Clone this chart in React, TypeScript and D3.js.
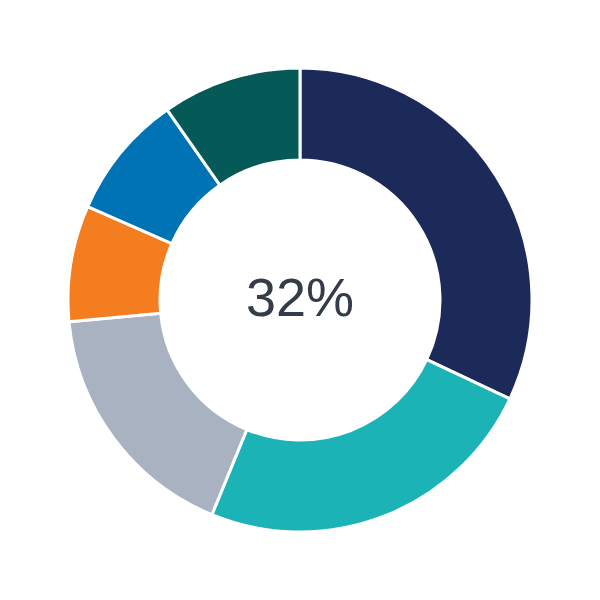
import React from "react";
import * as d3 from "d3";

const categories = ["A", "B", "C", "D", "E", "F"];
const values = [32, 24.2, 17.3, 8.1, 8.7, 9.7];
const colors = ["#1c2a5a", "#1bb3b6", "#a8b2c1", "#f47d20", "#0073b5", "#055a57"];
const centerLabel = "32%";

export default function App() {
  const width = 600;
  const height = 600;
  const cx = 300;
  const cy = 300;
  const outerR = 232;
  const innerR = 140;
  const pie = d3.pie<number>().sort(null).value((d) => d);
  const arcs = pie(values);
  const arc = d3.arc<d3.PieArcDatum<number>>().innerRadius(innerR).outerRadius(outerR);
  return (
    <svg width={width} height={height} style={{ position: "absolute", left: 0, top: 0 }}>
      <rect width={width} height={height} fill="#ffffff" />
      <g transform={`translate(${cx},${cy})`}>
        {arcs.map((a, i) => (
          <path key={categories[i]} d={arc(a) || ""} fill={colors[i]} stroke="#ffffff" strokeWidth={3} />
        ))}
        <text
          x={0}
          y={16}
          textAnchor="middle"
          fontFamily="'Liberation Sans', Arial, sans-serif"
          fontSize={54}
          fill="#333c47"
        >
          {centerLabel}
        </text>
      </g>
    </svg>
  );
}
